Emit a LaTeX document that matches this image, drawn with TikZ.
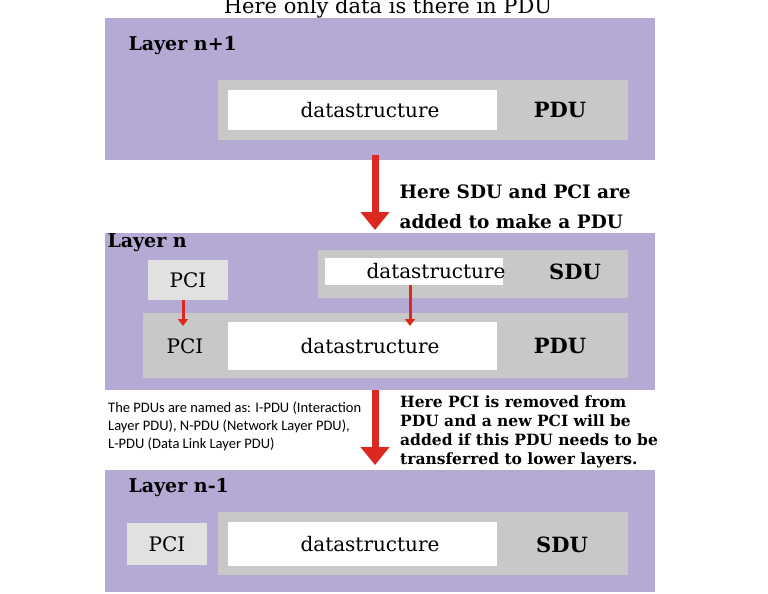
\documentclass[tikz,border=0pt]{standalone}
\usepackage{fontspec}
\setmainfont{DejaVu Serif}
\newfontfamily\calib{Carlito}
\usetikzlibrary{arrows.meta}
\definecolor{lay}{RGB}{180,170,212}
\definecolor{gr}{RGB}{200,200,200}
\definecolor{lgr}{RGB}{225,225,225}
\definecolor{rd}{RGB}{220,40,30}
\tikzset{
 layer/.style={fill=lay,draw=none},
 grbox/.style={fill=gr,draw=none},
 wbox/.style={fill=white,draw=none},
 pcibox/.style={fill=lgr,draw=none},
 big/.style={draw=rd,line width=7pt,-{Triangle[length=18pt,width=28pt]}},
 small/.style={draw=rd,line width=3pt,-{Triangle[length=7pt,width=10pt]}},
 txt/.style={font=\fontsize{20}{20}\selectfont},
 bx/.style={font=\bfseries\fontsize{21}{21}\selectfont},
 lbl/.style={font=\bfseries\fontsize{19}{19}\selectfont,anchor=west},
}
\begin{document}
\begin{tikzpicture}[x=1pt,y=-1pt]
\useasboundingbox (0,0) rectangle (768,594);
% Layer n+1
\fill[layer] (105,18) rectangle (655,160);
\node[lbl] (l1) at (125,46) {Layer n+1};
\fill[grbox] (218,80) rectangle (628,140);
\fill[wbox] (228,90) rectangle (497,130);
\node[txt] (d1) at (370,110) {datastructure};
\node[bx] (p1) at (560,110) {PDU};
\node[font=\fontsize{21}{21}\selectfont] (t0) at (388,8) {Here only data is there in PDU};
% arrow 1
\coordinate (a1s) at (375,155);
\coordinate (a1e) at (375,230);
\draw[big] (a1s) -- (a1e);
\node[anchor=west,font=\bfseries\fontsize{18.5}{30}\selectfont,align=left] (t1) at (396,207) {Here SDU and PCI are\\added to make a PDU};
% Layer n
\fill[layer] (105,233) rectangle (655,390);
\node[lbl] (l2) at (104,243) {Layer n};
\node[pcibox,minimum width=80pt,minimum height=40pt,txt] (pci1) at (188,280) {PCI};
\fill[grbox] (318,250) rectangle (628,298);
\fill[wbox] (325,258) rectangle (503,285);
\node[txt] (d2) at (436,271) {datastructure};
\node[bx] (s2) at (575,272) {SDU};
\fill[grbox] (143,313) rectangle (628,378);
\fill[wbox] (228,322) rectangle (497,370);
\node[txt] (pci2) at (185,346) {PCI};
\node[txt] (d3) at (370,346) {datastructure};
\node[bx] (p2) at (560,346) {PDU};
\coordinate (sa1) at (183,300);
\coordinate (sa2) at (183,326);
\coordinate (sb1) at (410,285);
\coordinate (sb2) at (410,326);
\draw[small] (sa1) -- (sa2);
\draw[small] (sb1) -- (sb2);
% arrow 2
\coordinate (a2s) at (375,390);
\coordinate (a2e) at (375,465);
\draw[big] (a2s) -- (a2e);
\node[anchor=north west,align=left,inner sep=0pt,font=\calib\fontsize{14.5}{18}\selectfont] (t2) at (108,402) {The PDUs are named as: I-PDU (Interaction\\Layer PDU), N-PDU (Network Layer PDU),\\L-PDU (Data Link Layer PDU)};
\node[anchor=north west,align=left,inner sep=0pt,font=\bfseries\fontsize{15.5}{19}\selectfont] (t3) at (400,396) {Here PCI is removed from\\PDU and a new PCI will be\\added if this PDU needs to be\\transferred to lower layers.};
% Layer n-1
\fill[layer] (105,470) rectangle (655,592);
\node[lbl] (l3) at (125,488) {Layer n-1};
\node[pcibox,minimum width=80pt,minimum height=42pt,txt] (pci3) at (167,544) {PCI};
\fill[grbox] (218,512) rectangle (628,575);
\fill[wbox] (228,522) rectangle (497,566);
\node[txt] (d4) at (370,544) {datastructure};
\node[bx] (s3) at (562,545) {SDU};
\end{tikzpicture}
\end{document}
